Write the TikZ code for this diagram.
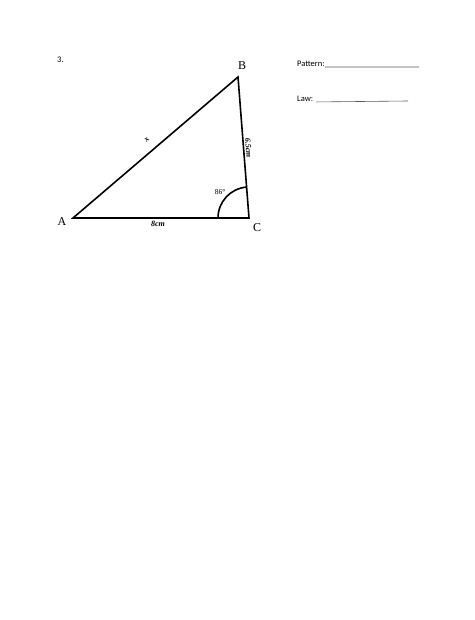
\documentclass[tikz,border=0pt]{standalone}
\usepackage{fontspec}
\setmainfont{Liberation Serif}
\newfontfamily\carlito{Carlito}
\begin{document}
\begin{tikzpicture}[x=1pt,y=1pt,
    lado/.style={line width=1.6pt},
    vertice/.style={font=\fontsize{12}{12}\selectfont},
    medida/.style={font=\bfseries\itshape\fontsize{8}{8}\selectfont, inner sep=0pt},
    texto/.style={font=\carlito\fontsize{8.5}{8.5}\selectfont, inner sep=0pt, anchor=west}]
    \useasboundingbox (0,0) rectangle (474,-620);

    \coordinate (A) at (73,-218);
    \coordinate (B) at (238,-77);
    \coordinate (C) at (249,-218);

    \node[texto] (num) at (57,-60) {3.};
    \node[vertice] (nA) at (62,-222) {A};
    \node[vertice] (nB) at (242,-66) {B};
    \node[vertice] (nC) at (257,-228) {C};

    \node[medida, rotate=40.5] (x) at (147,-140) {x};
    \node[medida, rotate=-85.5] (bc) at (248.5,-148) {6.5cm};
    \node[medida] (ac) at (158,-224) {8cm};
    \node[font=\fontsize{7.5}{7.5}\selectfont, inner sep=0pt] (ang) at (220,-192) {86°};

    %\node[opciones] (nombre) at (x,y) {contenido};
    \node[texto] (pat) at (297,-64) {Pattern:};
    \node[texto] (law) at (297,-99) {Law:};
    \coordinate (patfin) at (419,-67);
    \coordinate (lawfin) at (408,-101);

    \draw[lado, line join=miter] (A) -- (B) -- (C) -- cycle;
    \draw[lado] ([xshift=-31pt]C) arc[start angle=180, end angle=94.5, radius=31];
    \draw[gray!70!black, line width=0.6pt] (pat.south east) -- (patfin);
    \draw[gray!70!black, line width=0.6pt] ([xshift=3pt]law.south east) -- (lawfin);
\end{tikzpicture}
\end{document}
